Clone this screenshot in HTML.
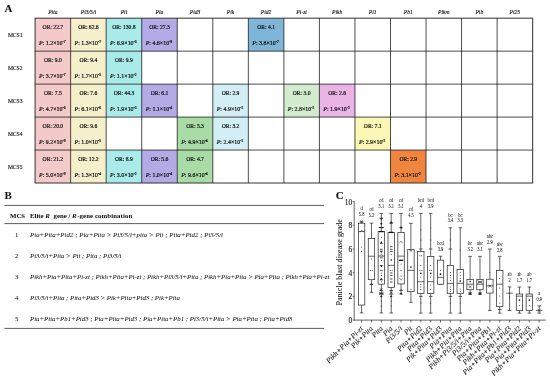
<!DOCTYPE html><html><head><meta charset="utf-8"><title>Figure</title>
<style>html,body{margin:0;padding:0;background:#fff}body{width:550px;height:380px;overflow:hidden}svg{display:block}text{font-family:"Liberation Serif","Times New Roman",serif;fill:#111;stroke:#111;stroke-width:0.12px}.b text{stroke-width:0.03px}.x{stroke-width:0.04px}.s{stroke-width:0.2px}</style></head><body>
<svg width="550" height="380" viewBox="0 0 550 380">
<rect width="550" height="380" fill="#fff"/>
<text x="4.6" y="11.6" font-size="11" font-weight="bold">A</text>
<text x="52.87" y="13.9" font-size="5.60" font-style="italic" text-anchor="middle">Pita</text>
<text x="88.41" y="13.9" font-size="5.60" font-style="italic" text-anchor="middle">Pi3/5/i</text>
<text x="123.95" y="13.9" font-size="5.60" font-style="italic" text-anchor="middle">Pit</text>
<text x="159.49" y="13.9" font-size="5.60" font-style="italic" text-anchor="middle">Pia</text>
<text x="195.03" y="13.9" font-size="5.60" font-style="italic" text-anchor="middle">Pid3</text>
<text x="230.57" y="13.9" font-size="5.60" font-style="italic" text-anchor="middle">Pik</text>
<text x="266.11" y="13.9" font-size="5.60" font-style="italic" text-anchor="middle">Pid2</text>
<text x="301.65" y="13.9" font-size="5.60" font-style="italic" text-anchor="middle">Pi-zt</text>
<text x="337.19" y="13.9" font-size="5.60" font-style="italic" text-anchor="middle">Pikh</text>
<text x="372.73" y="13.9" font-size="5.60" font-style="italic" text-anchor="middle">Pi1</text>
<text x="408.27" y="13.9" font-size="5.60" font-style="italic" text-anchor="middle">Pb1</text>
<text x="443.81" y="13.9" font-size="5.60" font-style="italic" text-anchor="middle">Pikm</text>
<text x="479.35" y="13.9" font-size="5.60" font-style="italic" text-anchor="middle">Pib</text>
<text x="514.89" y="13.9" font-size="5.60" font-style="italic" text-anchor="middle">Pi25</text>
<rect x="35.10" y="18.20" width="35.54" height="32.96" fill="#f4c9c9"/>
<rect x="70.64" y="18.20" width="35.54" height="32.96" fill="#f5efcb"/>
<rect x="106.18" y="18.20" width="35.54" height="32.96" fill="#a9ebe8"/>
<rect x="141.72" y="18.20" width="35.54" height="32.96" fill="#b4abe6"/>
<rect x="248.34" y="18.20" width="35.54" height="32.96" fill="#7fb6d8"/>
<rect x="35.10" y="51.16" width="35.54" height="32.96" fill="#f4c9c9"/>
<rect x="70.64" y="51.16" width="35.54" height="32.96" fill="#f5efcb"/>
<rect x="106.18" y="51.16" width="35.54" height="32.96" fill="#a9ebe8"/>
<rect x="35.10" y="84.12" width="35.54" height="32.96" fill="#f4c9c9"/>
<rect x="70.64" y="84.12" width="35.54" height="32.96" fill="#f5efcb"/>
<rect x="106.18" y="84.12" width="35.54" height="32.96" fill="#a9ebe8"/>
<rect x="141.72" y="84.12" width="35.54" height="32.96" fill="#b4abe6"/>
<rect x="212.80" y="84.12" width="35.54" height="32.96" fill="#d3eef5"/>
<rect x="283.88" y="84.12" width="35.54" height="32.96" fill="#d3ecce"/>
<rect x="319.42" y="84.12" width="35.54" height="32.96" fill="#ebb4e6"/>
<rect x="35.10" y="117.08" width="35.54" height="32.96" fill="#f4c9c9"/>
<rect x="70.64" y="117.08" width="35.54" height="32.96" fill="#f5efcb"/>
<rect x="177.26" y="117.08" width="35.54" height="32.96" fill="#a9dba6"/>
<rect x="212.80" y="117.08" width="35.54" height="32.96" fill="#d3eef5"/>
<rect x="354.96" y="117.08" width="35.54" height="32.96" fill="#fbf7b4"/>
<rect x="35.10" y="150.04" width="35.54" height="32.96" fill="#f4c9c9"/>
<rect x="70.64" y="150.04" width="35.54" height="32.96" fill="#f5efcb"/>
<rect x="106.18" y="150.04" width="35.54" height="32.96" fill="#a9ebe8"/>
<rect x="141.72" y="150.04" width="35.54" height="32.96" fill="#b4abe6"/>
<rect x="177.26" y="150.04" width="35.54" height="32.96" fill="#a9dba6"/>
<rect x="390.50" y="150.04" width="35.54" height="32.96" fill="#f0853f"/>
<line x1="34.65" y1="18.20" x2="533.11" y2="18.20" stroke="#333" stroke-width="1.00"/>
<line x1="34.65" y1="51.16" x2="533.11" y2="51.16" stroke="#111" stroke-width="0.75"/>
<line x1="34.65" y1="84.12" x2="533.11" y2="84.12" stroke="#111" stroke-width="0.75"/>
<line x1="34.65" y1="117.08" x2="533.11" y2="117.08" stroke="#111" stroke-width="0.75"/>
<line x1="34.65" y1="150.04" x2="533.11" y2="150.04" stroke="#111" stroke-width="0.75"/>
<line x1="34.65" y1="183.00" x2="533.11" y2="183.00" stroke="#333" stroke-width="1.00"/>
<line x1="35.10" y1="18.20" x2="35.10" y2="183.00" stroke="#333" stroke-width="1.00"/>
<line x1="70.64" y1="18.20" x2="70.64" y2="183.00" stroke="#111" stroke-width="0.75"/>
<line x1="106.18" y1="18.20" x2="106.18" y2="183.00" stroke="#111" stroke-width="0.75"/>
<line x1="141.72" y1="18.20" x2="141.72" y2="183.00" stroke="#111" stroke-width="0.75"/>
<line x1="177.26" y1="18.20" x2="177.26" y2="183.00" stroke="#111" stroke-width="0.75"/>
<line x1="212.80" y1="18.20" x2="212.80" y2="183.00" stroke="#111" stroke-width="0.75"/>
<line x1="248.34" y1="18.20" x2="248.34" y2="183.00" stroke="#111" stroke-width="0.75"/>
<line x1="283.88" y1="18.20" x2="283.88" y2="183.00" stroke="#111" stroke-width="0.75"/>
<line x1="319.42" y1="18.20" x2="319.42" y2="183.00" stroke="#111" stroke-width="0.75"/>
<line x1="354.96" y1="18.20" x2="354.96" y2="183.00" stroke="#111" stroke-width="0.75"/>
<line x1="390.50" y1="18.20" x2="390.50" y2="183.00" stroke="#111" stroke-width="0.75"/>
<line x1="426.04" y1="18.20" x2="426.04" y2="183.00" stroke="#111" stroke-width="0.75"/>
<line x1="461.58" y1="18.20" x2="461.58" y2="183.00" stroke="#111" stroke-width="0.75"/>
<line x1="497.12" y1="18.20" x2="497.12" y2="183.00" stroke="#111" stroke-width="0.75"/>
<line x1="532.66" y1="18.20" x2="532.66" y2="183.00" stroke="#333" stroke-width="1.00"/>
<text x="15.2" y="36.98" font-size="5.60" text-anchor="middle">MCS1</text>
<text x="15.2" y="69.94" font-size="5.60" text-anchor="middle">MCS2</text>
<text x="15.2" y="102.90" font-size="5.60" text-anchor="middle">MCS3</text>
<text x="15.2" y="135.86" font-size="5.60" text-anchor="middle">MCS4</text>
<text x="15.2" y="168.82" font-size="5.60" text-anchor="middle">MCS5</text>
<text x="52.87" y="29.20" font-size="5.60" class="s" text-anchor="middle">OR: 22.7</text>
<text x="52.27" y="44.80" font-size="5.95" class="s" text-anchor="middle"><tspan font-style="italic">P</tspan>: 1.2×10<tspan font-size="3.6" dy="-1.8">-7</tspan></text>
<text x="88.41" y="29.20" font-size="5.60" class="s" text-anchor="middle">OR: 62.6</text>
<text x="87.81" y="44.80" font-size="5.95" class="s" text-anchor="middle"><tspan font-style="italic">P</tspan>: 1.3×10<tspan font-size="3.6" dy="-1.8">-7</tspan></text>
<text x="123.95" y="29.20" font-size="5.60" class="s" text-anchor="middle">OR: 130.8</text>
<text x="123.35" y="44.80" font-size="5.95" class="s" text-anchor="middle"><tspan font-style="italic">P</tspan>: 6.9×10<tspan font-size="3.6" dy="-1.8">-6</tspan></text>
<text x="159.49" y="29.20" font-size="5.60" class="s" text-anchor="middle">OR: 27.3</text>
<text x="158.89" y="44.80" font-size="5.95" class="s" text-anchor="middle"><tspan font-style="italic">P</tspan>: 4.6×10<tspan font-size="3.6" dy="-1.8">-9</tspan></text>
<text x="266.11" y="29.20" font-size="5.60" class="s" text-anchor="middle">OR: 4.1</text>
<text x="265.51" y="44.80" font-size="5.95" class="s" text-anchor="middle"><tspan font-style="italic">P</tspan>: 3.8×10<tspan font-size="3.6" dy="-1.8">-7</tspan></text>
<text x="52.87" y="62.16" font-size="5.60" class="s" text-anchor="middle">OR: 9.0</text>
<text x="52.27" y="77.76" font-size="5.95" class="s" text-anchor="middle"><tspan font-style="italic">P</tspan>: 3.7×10<tspan font-size="3.6" dy="-1.8">-7</tspan></text>
<text x="88.41" y="62.16" font-size="5.60" class="s" text-anchor="middle">OR: 9.4</text>
<text x="87.81" y="77.76" font-size="5.95" class="s" text-anchor="middle"><tspan font-style="italic">P</tspan>: 1.7×10<tspan font-size="3.6" dy="-1.8">-5</tspan></text>
<text x="123.95" y="62.16" font-size="5.60" class="s" text-anchor="middle">OR: 9.9</text>
<text x="123.35" y="77.76" font-size="5.95" class="s" text-anchor="middle"><tspan font-style="italic">P</tspan>: 1.1×10<tspan font-size="3.6" dy="-1.8">-2</tspan></text>
<text x="52.87" y="95.12" font-size="5.60" class="s" text-anchor="middle">OR: 7.5</text>
<text x="52.27" y="110.72" font-size="5.95" class="s" text-anchor="middle"><tspan font-style="italic">P</tspan>: 4.7×10<tspan font-size="3.6" dy="-1.8">-6</tspan></text>
<text x="88.41" y="95.12" font-size="5.60" class="s" text-anchor="middle">OR: 7.6</text>
<text x="87.81" y="110.72" font-size="5.95" class="s" text-anchor="middle"><tspan font-style="italic">P</tspan>: 6.1×10<tspan font-size="3.6" dy="-1.8">-6</tspan></text>
<text x="123.95" y="95.12" font-size="5.60" class="s" text-anchor="middle">OR: 44.3</text>
<text x="123.35" y="110.72" font-size="5.95" class="s" text-anchor="middle"><tspan font-style="italic">P</tspan>: 1.9×10<tspan font-size="3.6" dy="-1.8">-3</tspan></text>
<text x="159.49" y="95.12" font-size="5.60" class="s" text-anchor="middle">OR: 6.1</text>
<text x="158.89" y="110.72" font-size="5.95" class="s" text-anchor="middle"><tspan font-style="italic">P</tspan>: 1.1×10<tspan font-size="3.6" dy="-1.8">-4</tspan></text>
<text x="230.57" y="95.12" font-size="5.60" class="s" text-anchor="middle">OR: 2.9</text>
<text x="229.97" y="110.72" font-size="5.95" class="s" text-anchor="middle"><tspan font-style="italic">P</tspan>: 4.9×10<tspan font-size="3.6" dy="-1.8">-2</tspan></text>
<text x="301.65" y="95.12" font-size="5.60" class="s" text-anchor="middle">OR: 3.0</text>
<text x="301.05" y="110.72" font-size="5.95" class="s" text-anchor="middle"><tspan font-style="italic">P</tspan>: 2.8×10<tspan font-size="3.6" dy="-1.8">-2</tspan></text>
<text x="337.19" y="95.12" font-size="5.60" class="s" text-anchor="middle">OR: 2.6</text>
<text x="336.59" y="110.72" font-size="5.95" class="s" text-anchor="middle"><tspan font-style="italic">P</tspan>: 1.9×10<tspan font-size="3.6" dy="-1.8">-2</tspan></text>
<text x="52.87" y="128.08" font-size="5.60" class="s" text-anchor="middle">OR: 20.0</text>
<text x="52.27" y="143.68" font-size="5.95" class="s" text-anchor="middle"><tspan font-style="italic">P</tspan>: 9.2×10<tspan font-size="3.6" dy="-1.8">-9</tspan></text>
<text x="88.41" y="128.08" font-size="5.60" class="s" text-anchor="middle">OR: 9.6</text>
<text x="87.81" y="143.68" font-size="5.95" class="s" text-anchor="middle"><tspan font-style="italic">P</tspan>: 1.0×10<tspan font-size="3.6" dy="-1.8">-5</tspan></text>
<text x="195.03" y="128.08" font-size="5.60" class="s" text-anchor="middle">OR: 5.3</text>
<text x="194.43" y="143.68" font-size="5.95" class="s" text-anchor="middle"><tspan font-style="italic">P</tspan>: 4.9×10<tspan font-size="3.6" dy="-1.8">-4</tspan></text>
<text x="230.57" y="128.08" font-size="5.60" class="s" text-anchor="middle">OR: 3.2</text>
<text x="229.97" y="143.68" font-size="5.95" class="s" text-anchor="middle"><tspan font-style="italic">P</tspan>: 2.4×10<tspan font-size="3.6" dy="-1.8">-2</tspan></text>
<text x="372.73" y="128.08" font-size="5.60" class="s" text-anchor="middle">OR: 7.1</text>
<text x="372.13" y="143.68" font-size="5.95" class="s" text-anchor="middle"><tspan font-style="italic">P</tspan>: 2.9×10<tspan font-size="3.6" dy="-1.8">-2</tspan></text>
<text x="52.87" y="161.04" font-size="5.60" class="s" text-anchor="middle">OR: 21.2</text>
<text x="52.27" y="176.64" font-size="5.95" class="s" text-anchor="middle"><tspan font-style="italic">P</tspan>: 5.0×10<tspan font-size="3.6" dy="-1.8">-9</tspan></text>
<text x="88.41" y="161.04" font-size="5.60" class="s" text-anchor="middle">OR: 12.2</text>
<text x="87.81" y="176.64" font-size="5.95" class="s" text-anchor="middle"><tspan font-style="italic">P</tspan>: 1.3×10<tspan font-size="3.6" dy="-1.8">-4</tspan></text>
<text x="123.95" y="161.04" font-size="5.60" class="s" text-anchor="middle">OR: 8.9</text>
<text x="123.35" y="176.64" font-size="5.95" class="s" text-anchor="middle"><tspan font-style="italic">P</tspan>: 3.0×10<tspan font-size="3.6" dy="-1.8">-2</tspan></text>
<text x="159.49" y="161.04" font-size="5.60" class="s" text-anchor="middle">OR: 5.6</text>
<text x="158.89" y="176.64" font-size="5.95" class="s" text-anchor="middle"><tspan font-style="italic">P</tspan>: 1.0×10<tspan font-size="3.6" dy="-1.8">-4</tspan></text>
<text x="195.03" y="161.04" font-size="5.60" class="s" text-anchor="middle">OR: 4.7</text>
<text x="194.43" y="176.64" font-size="5.95" class="s" text-anchor="middle"><tspan font-style="italic">P</tspan>: 9.6×10<tspan font-size="3.6" dy="-1.8">-4</tspan></text>
<text x="408.27" y="161.04" font-size="5.60" class="s" text-anchor="middle">OR: 2.9</text>
<text x="407.67" y="176.64" font-size="5.95" class="s" text-anchor="middle"><tspan font-style="italic">P</tspan>: 3.1×10<tspan font-size="3.6" dy="-1.8">-2</tspan></text>
<g class="b">
<text x="4.4" y="198.6" font-size="11" font-weight="bold">B</text>
<line x1="4.4" y1="205.40" x2="324" y2="205.40" stroke="#333" stroke-width="0.80"/>
<line x1="4.4" y1="223.60" x2="324" y2="223.60" stroke="#333" stroke-width="0.80"/>
<line x1="4.4" y1="328.40" x2="324" y2="328.40" stroke="#333" stroke-width="0.80"/>
<text x="10" y="217.5" font-size="6.80" font-weight="bold">MCS</text>
<text x="30" y="217.5" font-size="6.80" font-weight="bold">Elite <tspan font-style="italic">R</tspan><tspan dx="2.0"> gene / </tspan><tspan font-style="italic">R</tspan><tspan dx="0.6" letter-spacing="0.1">-gene combination</tspan></text>
<text x="16.6" y="237.30" font-size="6.80" text-anchor="middle">1</text>
<text x="30" y="237.30" font-size="6.80" font-style="italic" textLength="193.0" lengthAdjust="spacing">Pia+Pita+Pid2 ; Pia+Pita &gt; Pi3/5/i+pita &gt; Pit ; Pita+Pid2 ; Pi3/5/i</text>
<text x="16.6" y="258.20" font-size="6.80" text-anchor="middle">2</text>
<text x="30" y="258.20" font-size="6.80" font-style="italic">Pi3/5/i+Pita &gt; Pit ; Pita ; Pi3/5/i</text>
<text x="16.6" y="279.10" font-size="6.80" text-anchor="middle">3</text>
<text x="30" y="279.10" font-size="6.80" font-style="italic">Pikh+Pia+Pita+Pi-zt ; Pikh+Pita+Pi-zt ; Pikh+Pi3/5/i+Pita ; Pikh+Pia+Pita &gt; Pia+Pita ; Pikh+Pia+Pi-zt</text>
<text x="16.6" y="300.00" font-size="6.80" text-anchor="middle">4</text>
<text x="30" y="300.00" font-size="6.80" font-style="italic">Pi3/5/i+Pita ; Pita+Pid3 &gt; Pik+Pita+Pid3 ; Pik+Pita</text>
<text x="16.6" y="320.90" font-size="6.80" text-anchor="middle">5</text>
<text x="30" y="320.90" font-size="6.80" font-style="italic" textLength="262.5" lengthAdjust="spacing">Pia+Pita+Pb1+Pid3 ; Pia+Pita+Pid3 ; Pia+Pita+Pb1 ; Pi3/5/i+Pita &gt; Pia+Pita ; Pita+Pid3</text>
</g>
<text x="335.8" y="199.0" font-size="10.8" font-weight="bold">C</text>
<line x1="354.20" y1="201.30" x2="354.20" y2="320.50" stroke="#555" stroke-width="0.9"/>
<line x1="353.80" y1="320.10" x2="545.80" y2="320.10" stroke="#555" stroke-width="0.9"/>
<line x1="352.60" y1="320.10" x2="354.20" y2="320.10" stroke="#444" stroke-width="0.7"/>
<text x="352.20" y="323.10" font-size="7.4" text-anchor="end">0</text>
<line x1="352.60" y1="296.40" x2="354.20" y2="296.40" stroke="#444" stroke-width="0.7"/>
<text x="352.20" y="299.40" font-size="7.4" text-anchor="end">2</text>
<line x1="352.60" y1="272.70" x2="354.20" y2="272.70" stroke="#444" stroke-width="0.7"/>
<text x="352.20" y="275.70" font-size="7.4" text-anchor="end">4</text>
<line x1="352.60" y1="249.00" x2="354.20" y2="249.00" stroke="#444" stroke-width="0.7"/>
<text x="352.20" y="252.00" font-size="7.4" text-anchor="end">6</text>
<line x1="352.60" y1="225.30" x2="354.20" y2="225.30" stroke="#444" stroke-width="0.7"/>
<text x="352.20" y="228.30" font-size="7.4" text-anchor="end">8</text>
<line x1="352.60" y1="201.60" x2="354.20" y2="201.60" stroke="#444" stroke-width="0.7"/>
<text x="352.20" y="204.60" font-size="7.4" text-anchor="end">10</text>
<text transform="translate(342,262.3) rotate(-90)" font-size="8.1" class="x" text-anchor="middle">Panicle blast disease grade</text>
<line x1="361.60" y1="320.10" x2="361.60" y2="322.40" stroke="#222" stroke-width="0.7"/>
<line x1="361.60" y1="221.75" x2="361.60" y2="223.17" stroke="#222" stroke-width="0.7" fill="none"/>
<line x1="361.60" y1="305.05" x2="361.60" y2="312.87" stroke="#222" stroke-width="0.7" fill="none"/>
<line x1="359.80" y1="312.87" x2="363.40" y2="312.87" stroke="#222" stroke-width="0.7" fill="none"/>
<line x1="359.80" y1="221.75" x2="363.40" y2="221.75" stroke="#222" stroke-width="0.7" fill="none"/>
<rect x="358.40" y="223.17" width="6.40" height="81.88" fill="#fff" stroke="#222" stroke-width="0.7"/>
<line x1="358.40" y1="231.46" x2="364.80" y2="231.46" stroke="#222" stroke-width="0.7" fill="none"/>
<path d="M360.10 220.40L363.10 223.00M360.10 223.00L363.10 220.40" fill="none" stroke="#222" stroke-width="0.55"/>
<path d="M360.10 232.30L361.60 230.10L363.10 232.30" fill="none" stroke="#333" stroke-width="0.5"/>
<circle cx="361.60" cy="246.90" r="0.5" fill="#222"/>
<circle cx="361.60" cy="251.30" r="0.5" fill="#222"/>
<text transform="translate(361.60,210.30) scale(0.8,1)" font-size="5.5" class="x" text-anchor="middle">d</text>
<text transform="translate(361.60,216.10) scale(0.8,1)" font-size="5.5" class="x" text-anchor="middle">5.8</text>
<text transform="translate(363.60,329.10) rotate(-45)" font-size="7.6" class="x" font-style="italic" text-anchor="end">Pikh+Pia+Pi-zt</text>
<line x1="371.47" y1="320.10" x2="371.47" y2="322.40" stroke="#222" stroke-width="0.7"/>
<line x1="371.47" y1="223.17" x2="371.47" y2="238.34" stroke="#222" stroke-width="0.7" fill="none"/>
<line x1="371.47" y1="279.69" x2="371.47" y2="292.25" stroke="#222" stroke-width="0.7" fill="none"/>
<line x1="369.67" y1="292.25" x2="373.27" y2="292.25" stroke="#222" stroke-width="0.7" fill="none"/>
<line x1="369.67" y1="223.17" x2="373.27" y2="223.17" stroke="#222" stroke-width="0.7" fill="none"/>
<line x1="369.67" y1="284.55" x2="373.27" y2="284.55" stroke="#222" stroke-width="0.7" fill="none"/>
<rect x="368.27" y="238.34" width="6.40" height="41.36" fill="#fff" stroke="#222" stroke-width="0.7"/>
<line x1="368.27" y1="256.23" x2="374.67" y2="256.23" stroke="#222" stroke-width="0.7" fill="none"/>
<circle cx="371.47" cy="259.00" r="0.5" fill="#222"/>
<circle cx="370.57" cy="270.40" r="0.5" fill="#222"/>
<circle cx="372.37" cy="270.40" r="0.5" fill="#222"/>
<line x1="370.17" y1="284.20" x2="372.77" y2="284.20" stroke="#222" stroke-width="0.8"/>
<text transform="translate(371.47,211.40) scale(0.8,1)" font-size="5.5" class="x" text-anchor="middle">cd</text>
<text transform="translate(371.47,217.20) scale(0.8,1)" font-size="5.5" class="x" text-anchor="middle">5.2</text>
<text transform="translate(373.47,329.10) rotate(-45)" font-size="7.6" class="x" font-style="italic" text-anchor="end">Pik+Pita</text>
<line x1="381.33" y1="320.10" x2="381.33" y2="322.40" stroke="#222" stroke-width="0.7"/>
<line x1="381.33" y1="213.45" x2="381.33" y2="231.46" stroke="#222" stroke-width="0.7" fill="none"/>
<line x1="381.33" y1="284.19" x2="381.33" y2="312.99" stroke="#222" stroke-width="0.7" fill="none"/>
<line x1="379.53" y1="312.99" x2="383.13" y2="312.99" stroke="#222" stroke-width="0.7" fill="none"/>
<line x1="379.53" y1="213.45" x2="383.13" y2="213.45" stroke="#222" stroke-width="0.7" fill="none"/>
<line x1="379.53" y1="294.03" x2="383.13" y2="294.03" stroke="#222" stroke-width="0.7" fill="none"/>
<line x1="379.53" y1="290.48" x2="383.13" y2="290.48" stroke="#222" stroke-width="0.7" fill="none"/>
<line x1="379.53" y1="227.67" x2="383.13" y2="227.67" stroke="#222" stroke-width="0.7" fill="none"/>
<line x1="379.53" y1="218.19" x2="383.13" y2="218.19" stroke="#222" stroke-width="0.7" fill="none"/>
<rect x="378.13" y="231.46" width="6.40" height="52.73" fill="#fff" stroke="#222" stroke-width="0.7"/>
<line x1="378.13" y1="256.11" x2="384.53" y2="256.11" stroke="#222" stroke-width="0.7" fill="none"/>
<path d="M380.13 218.70L381.33 217.50L382.53 218.70L381.33 219.90Z" fill="#222"/>
<path d="M380.13 223.80L381.33 222.60L382.53 223.80L381.33 225.00Z" fill="#222"/>
<line x1="378.63" y1="227.50" x2="384.03" y2="227.50" stroke="#222" stroke-width="0.9"/>
<line x1="379.13" y1="231.60" x2="383.53" y2="231.60" stroke="#111" stroke-width="1.3"/>
<circle cx="381.33" cy="237.20" r="0.5" fill="#222"/>
<circle cx="381.33" cy="242.40" r="0.85" fill="#111"/>
<line x1="380.03" y1="243.60" x2="382.63" y2="243.60" stroke="#222" stroke-width="0.8"/>
<line x1="380.03" y1="249.30" x2="382.63" y2="249.30" stroke="#222" stroke-width="0.8"/>
<path d="M379.73 250.70L382.93 250.70L381.33 253.10Z" fill="#222"/>
<path d="M379.83 256.00L381.33 253.80L382.83 256.00" fill="none" stroke="#333" stroke-width="0.5"/>
<line x1="380.03" y1="257.80" x2="382.63" y2="257.80" stroke="#222" stroke-width="0.8"/>
<circle cx="381.33" cy="260.50" r="0.5" fill="#222"/>
<path d="M379.73 264.90L382.93 264.90L381.33 267.30Z" fill="#222"/>
<line x1="380.03" y1="270.40" x2="382.63" y2="270.40" stroke="#222" stroke-width="0.8"/>
<circle cx="381.33" cy="273.00" r="0.5" fill="#222"/>
<circle cx="381.33" cy="275.50" r="0.5" fill="#222"/>
<path d="M379.63 280.30L383.03 280.30L381.33 277.70Z" fill="#222"/>
<circle cx="381.33" cy="281.80" r="0.5" fill="#222"/>
<path d="M379.83 288.40L382.83 291.00M379.83 291.00L382.83 288.40" fill="none" stroke="#222" stroke-width="0.55"/>
<path d="M378.93 292.10L383.73 294.70M378.93 294.70L383.73 292.10M379.13 293.40L383.53 293.40" fill="none" stroke="#222" stroke-width="0.6"/>
<path d="M380.13 296.40L381.33 295.20L382.53 296.40L381.33 297.60Z" fill="#222"/>
<circle cx="381.33" cy="301.00" r="0.5" fill="#222"/>
<circle cx="381.33" cy="306.00" r="0.5" fill="#222"/>
<text transform="translate(381.33,202.30) scale(0.8,1)" font-size="5.5" class="x" text-anchor="middle">cd</text>
<text transform="translate(381.33,207.80) scale(0.8,1)" font-size="5.5" class="x" text-anchor="middle">5.1</text>
<text transform="translate(383.33,329.10) rotate(-45)" font-size="7.6" class="x" font-style="italic" text-anchor="end">Pita</text>
<line x1="391.20" y1="320.10" x2="391.20" y2="322.40" stroke="#222" stroke-width="0.7"/>
<line x1="391.20" y1="213.45" x2="391.20" y2="232.41" stroke="#222" stroke-width="0.7" fill="none"/>
<line x1="391.20" y1="287.39" x2="391.20" y2="312.99" stroke="#222" stroke-width="0.7" fill="none"/>
<line x1="389.40" y1="312.99" x2="393.00" y2="312.99" stroke="#222" stroke-width="0.7" fill="none"/>
<line x1="389.40" y1="213.45" x2="393.00" y2="213.45" stroke="#222" stroke-width="0.7" fill="none"/>
<line x1="389.40" y1="294.03" x2="393.00" y2="294.03" stroke="#222" stroke-width="0.7" fill="none"/>
<line x1="389.40" y1="290.48" x2="393.00" y2="290.48" stroke="#222" stroke-width="0.7" fill="none"/>
<line x1="389.40" y1="222.93" x2="393.00" y2="222.93" stroke="#222" stroke-width="0.7" fill="none"/>
<rect x="388.00" y="232.41" width="6.40" height="54.98" fill="#fff" stroke="#222" stroke-width="0.7"/>
<line x1="388.00" y1="265.35" x2="394.40" y2="265.35" stroke="#222" stroke-width="0.7" fill="none"/>
<path d="M389.50 223.60L392.90 223.60L391.20 221.00Z" fill="#222"/>
<line x1="389.00" y1="232.40" x2="393.40" y2="232.40" stroke="#111" stroke-width="1.3"/>
<line x1="389.90" y1="246.70" x2="392.50" y2="246.70" stroke="#222" stroke-width="0.8"/>
<line x1="389.90" y1="249.30" x2="392.50" y2="249.30" stroke="#222" stroke-width="0.8"/>
<line x1="389.90" y1="251.50" x2="392.50" y2="251.50" stroke="#222" stroke-width="0.8"/>
<circle cx="391.20" cy="254.50" r="0.5" fill="#222"/>
<rect x="390.50" y="259.30" width="1.4" height="1.4" fill="#222"/>
<circle cx="390.30" cy="270.40" r="0.5" fill="#222"/>
<circle cx="392.10" cy="270.40" r="0.5" fill="#222"/>
<line x1="389.90" y1="273.00" x2="392.50" y2="273.00" stroke="#222" stroke-width="0.8"/>
<line x1="389.90" y1="275.50" x2="392.50" y2="275.50" stroke="#222" stroke-width="0.8"/>
<line x1="389.90" y1="279.00" x2="392.50" y2="279.00" stroke="#222" stroke-width="0.8"/>
<line x1="389.90" y1="282.00" x2="392.50" y2="282.00" stroke="#222" stroke-width="0.8"/>
<path d="M389.70 291.20L392.70 293.80M389.70 293.80L392.70 291.20" fill="none" stroke="#222" stroke-width="0.55"/>
<path d="M390.00 296.40L391.20 295.20L392.40 296.40L391.20 297.60Z" fill="#222"/>
<circle cx="391.20" cy="301.00" r="0.5" fill="#222"/>
<circle cx="391.20" cy="306.00" r="0.5" fill="#222"/>
<text transform="translate(391.20,202.30) scale(0.8,1)" font-size="5.5" class="x" text-anchor="middle">cd</text>
<text transform="translate(391.20,207.80) scale(0.8,1)" font-size="5.5" class="x" text-anchor="middle">5.1</text>
<text transform="translate(393.20,329.10) rotate(-45)" font-size="7.6" class="x" font-style="italic" text-anchor="end">Pia</text>
<line x1="401.06" y1="320.10" x2="401.06" y2="322.40" stroke="#222" stroke-width="0.7"/>
<line x1="401.06" y1="213.45" x2="401.06" y2="232.41" stroke="#222" stroke-width="0.7" fill="none"/>
<line x1="401.06" y1="283.96" x2="401.06" y2="294.03" stroke="#222" stroke-width="0.7" fill="none"/>
<line x1="399.26" y1="294.03" x2="402.86" y2="294.03" stroke="#222" stroke-width="0.7" fill="none"/>
<line x1="399.26" y1="213.45" x2="402.86" y2="213.45" stroke="#222" stroke-width="0.7" fill="none"/>
<line x1="399.26" y1="290.48" x2="402.86" y2="290.48" stroke="#222" stroke-width="0.7" fill="none"/>
<line x1="399.26" y1="227.67" x2="402.86" y2="227.67" stroke="#222" stroke-width="0.7" fill="none"/>
<rect x="397.86" y="232.41" width="6.40" height="51.55" fill="#fff" stroke="#222" stroke-width="0.7"/>
<line x1="397.86" y1="256.11" x2="404.26" y2="256.11" stroke="#222" stroke-width="0.7" fill="none"/>
<path d="M399.86 227.50L401.06 226.30L402.26 227.50L401.06 228.70Z" fill="#222"/>
<path d="M399.56 243.20L401.06 241.00L402.56 243.20" fill="none" stroke="#333" stroke-width="0.5"/>
<line x1="398.86" y1="260.30" x2="403.26" y2="260.30" stroke="#111" stroke-width="1.3"/>
<circle cx="401.06" cy="264.00" r="0.5" fill="#222"/>
<circle cx="401.06" cy="270.40" r="0.5" fill="#222"/>
<circle cx="401.06" cy="276.00" r="0.5" fill="#222"/>
<path d="M399.56 278.10L401.06 280.30L402.56 278.10" fill="none" stroke="#333" stroke-width="0.5"/>
<circle cx="401.06" cy="289.70" r="0.5" fill="#222"/>
<path d="M399.86 293.60L401.06 292.40L402.26 293.60L401.06 294.80Z" fill="#222"/>
<text transform="translate(401.06,202.30) scale(0.8,1)" font-size="5.5" class="x" text-anchor="middle">cd</text>
<text transform="translate(401.06,207.80) scale(0.8,1)" font-size="5.5" class="x" text-anchor="middle">5.1</text>
<text transform="translate(403.06,329.10) rotate(-45)" font-size="7.6" class="x" font-style="italic" text-anchor="end">Pi3/5/i</text>
<line x1="410.93" y1="320.10" x2="410.93" y2="322.40" stroke="#222" stroke-width="0.7"/>
<line x1="410.93" y1="223.29" x2="410.93" y2="249.47" stroke="#222" stroke-width="0.7" fill="none"/>
<line x1="410.93" y1="291.66" x2="410.93" y2="302.33" stroke="#222" stroke-width="0.7" fill="none"/>
<line x1="409.13" y1="302.33" x2="412.73" y2="302.33" stroke="#222" stroke-width="0.7" fill="none"/>
<line x1="409.13" y1="223.29" x2="412.73" y2="223.29" stroke="#222" stroke-width="0.7" fill="none"/>
<rect x="407.73" y="249.47" width="6.40" height="42.19" fill="#fff" stroke="#222" stroke-width="0.7"/>
<line x1="407.73" y1="270.33" x2="414.13" y2="270.33" stroke="#222" stroke-width="0.7" fill="none"/>
<line x1="409.63" y1="250.80" x2="412.23" y2="250.80" stroke="#222" stroke-width="0.8"/>
<rect x="410.23" y="266.40" width="1.4" height="1.4" fill="#222"/>
<circle cx="410.93" cy="289.30" r="0.5" fill="#222"/>
<text transform="translate(410.93,211.40) scale(0.8,1)" font-size="5.5" class="x" text-anchor="middle">cd</text>
<text transform="translate(410.93,217.20) scale(0.8,1)" font-size="5.5" class="x" text-anchor="middle">4.5</text>
<text transform="translate(412.93,329.10) rotate(-45)" font-size="7.6" class="x" font-style="italic" text-anchor="end">Pit</text>
<line x1="420.80" y1="320.10" x2="420.80" y2="322.40" stroke="#222" stroke-width="0.7"/>
<line x1="420.80" y1="213.45" x2="420.80" y2="251.61" stroke="#222" stroke-width="0.7" fill="none"/>
<line x1="420.80" y1="293.56" x2="420.80" y2="313.11" stroke="#222" stroke-width="0.7" fill="none"/>
<line x1="419.00" y1="313.11" x2="422.60" y2="313.11" stroke="#222" stroke-width="0.7" fill="none"/>
<line x1="419.00" y1="213.45" x2="422.60" y2="213.45" stroke="#222" stroke-width="0.7" fill="none"/>
<line x1="419.00" y1="296.40" x2="422.60" y2="296.40" stroke="#222" stroke-width="0.7" fill="none"/>
<line x1="419.00" y1="249.00" x2="422.60" y2="249.00" stroke="#222" stroke-width="0.7" fill="none"/>
<rect x="417.60" y="251.61" width="6.40" height="41.95" fill="#fff" stroke="#222" stroke-width="0.7"/>
<line x1="417.60" y1="281.71" x2="424.00" y2="281.71" stroke="#222" stroke-width="0.7" fill="none"/>
<circle cx="419.90" cy="255.80" r="0.5" fill="#222"/>
<circle cx="421.70" cy="255.80" r="0.5" fill="#222"/>
<circle cx="420.80" cy="265.50" r="0.5" fill="#222"/>
<circle cx="419.90" cy="270.50" r="0.5" fill="#222"/>
<circle cx="421.70" cy="270.50" r="0.5" fill="#222"/>
<circle cx="420.80" cy="273.30" r="0.85" fill="#111"/>
<circle cx="420.80" cy="277.00" r="0.5" fill="#222"/>
<circle cx="420.80" cy="284.60" r="0.5" fill="#222"/>
<circle cx="420.80" cy="287.00" r="0.5" fill="#222"/>
<circle cx="420.80" cy="289.50" r="0.5" fill="#222"/>
<circle cx="420.80" cy="240.00" r="0.5" fill="#222"/>
<circle cx="420.80" cy="230.00" r="0.5" fill="#222"/>
<circle cx="420.80" cy="303.00" r="0.5" fill="#222"/>
<text transform="translate(420.80,202.20) scale(0.8,1)" font-size="5.5" class="x" text-anchor="middle">bcd</text>
<text transform="translate(420.80,207.80) scale(0.8,1)" font-size="5.5" class="x" text-anchor="middle">4</text>
<text transform="translate(422.80,329.10) rotate(-45)" font-size="7.6" class="x" font-style="italic" text-anchor="end">Pita+Pid2</text>
<line x1="430.66" y1="320.10" x2="430.66" y2="322.40" stroke="#222" stroke-width="0.7"/>
<line x1="430.66" y1="213.45" x2="430.66" y2="256.47" stroke="#222" stroke-width="0.7" fill="none"/>
<line x1="430.66" y1="293.56" x2="430.66" y2="313.11" stroke="#222" stroke-width="0.7" fill="none"/>
<line x1="428.86" y1="313.11" x2="432.46" y2="313.11" stroke="#222" stroke-width="0.7" fill="none"/>
<line x1="428.86" y1="213.45" x2="432.46" y2="213.45" stroke="#222" stroke-width="0.7" fill="none"/>
<line x1="428.86" y1="296.40" x2="432.46" y2="296.40" stroke="#222" stroke-width="0.7" fill="none"/>
<line x1="428.86" y1="249.00" x2="432.46" y2="249.00" stroke="#222" stroke-width="0.7" fill="none"/>
<rect x="427.46" y="256.47" width="6.40" height="37.09" fill="#fff" stroke="#222" stroke-width="0.7"/>
<line x1="427.46" y1="281.71" x2="433.86" y2="281.71" stroke="#222" stroke-width="0.7" fill="none"/>
<circle cx="430.66" cy="265.50" r="0.5" fill="#222"/>
<circle cx="429.76" cy="270.50" r="0.5" fill="#222"/>
<circle cx="431.56" cy="270.50" r="0.5" fill="#222"/>
<circle cx="430.66" cy="273.30" r="0.85" fill="#111"/>
<circle cx="430.66" cy="277.00" r="0.5" fill="#222"/>
<circle cx="430.66" cy="285.00" r="0.5" fill="#222"/>
<circle cx="430.66" cy="289.50" r="0.5" fill="#222"/>
<circle cx="430.66" cy="240.00" r="0.5" fill="#222"/>
<circle cx="430.66" cy="228.00" r="0.5" fill="#222"/>
<circle cx="430.66" cy="303.00" r="0.5" fill="#222"/>
<text transform="translate(430.66,202.20) scale(0.8,1)" font-size="5.5" class="x" text-anchor="middle">bcd</text>
<text transform="translate(430.66,207.80) scale(0.8,1)" font-size="5.5" class="x" text-anchor="middle">3.9</text>
<text transform="translate(432.66,329.10) rotate(-45)" font-size="7.6" class="x" font-style="italic" text-anchor="end">Pita+Pid3</text>
<line x1="440.53" y1="320.10" x2="440.53" y2="322.40" stroke="#222" stroke-width="0.7"/>
<line x1="440.53" y1="256.23" x2="440.53" y2="260.14" stroke="#222" stroke-width="0.7" fill="none"/>
<line x1="440.53" y1="284.19" x2="440.53" y2="284.19" stroke="#222" stroke-width="0.7" fill="none"/>
<line x1="438.73" y1="284.19" x2="442.33" y2="284.19" stroke="#222" stroke-width="0.7" fill="none"/>
<line x1="438.73" y1="256.23" x2="442.33" y2="256.23" stroke="#222" stroke-width="0.7" fill="none"/>
<rect x="437.33" y="260.14" width="6.40" height="24.06" fill="#fff" stroke="#222" stroke-width="0.7"/>
<line x1="437.33" y1="277.32" x2="443.73" y2="277.32" stroke="#222" stroke-width="0.7" fill="none"/>
<circle cx="440.53" cy="270.50" r="0.5" fill="#222"/>
<circle cx="440.53" cy="274.20" r="0.85" fill="#111"/>
<text transform="translate(440.53,244.50) scale(0.8,1)" font-size="5.5" class="x" text-anchor="middle">bcd</text>
<text transform="translate(440.53,250.50) scale(0.8,1)" font-size="5.5" class="x" text-anchor="middle">3.9</text>
<text transform="translate(442.53,329.10) rotate(-45)" font-size="7.6" class="x" font-style="italic" text-anchor="end">Pik+Pita+Pid3</text>
<line x1="450.39" y1="320.10" x2="450.39" y2="322.40" stroke="#222" stroke-width="0.7"/>
<line x1="450.39" y1="227.79" x2="450.39" y2="265.59" stroke="#222" stroke-width="0.7" fill="none"/>
<line x1="450.39" y1="293.32" x2="450.39" y2="313.11" stroke="#222" stroke-width="0.7" fill="none"/>
<line x1="448.59" y1="313.11" x2="452.19" y2="313.11" stroke="#222" stroke-width="0.7" fill="none"/>
<line x1="448.59" y1="227.79" x2="452.19" y2="227.79" stroke="#222" stroke-width="0.7" fill="none"/>
<line x1="448.59" y1="296.40" x2="452.19" y2="296.40" stroke="#222" stroke-width="0.7" fill="none"/>
<line x1="448.59" y1="249.00" x2="452.19" y2="249.00" stroke="#222" stroke-width="0.7" fill="none"/>
<rect x="447.19" y="265.59" width="6.40" height="27.73" fill="#fff" stroke="#222" stroke-width="0.7"/>
<line x1="447.19" y1="283.37" x2="453.59" y2="283.37" stroke="#222" stroke-width="0.7" fill="none"/>
<circle cx="450.39" cy="272.40" r="0.5" fill="#222"/>
<circle cx="450.39" cy="275.50" r="0.5" fill="#222"/>
<circle cx="450.39" cy="278.00" r="0.5" fill="#222"/>
<circle cx="450.39" cy="280.50" r="0.5" fill="#222"/>
<circle cx="450.39" cy="287.00" r="0.5" fill="#222"/>
<circle cx="450.39" cy="289.50" r="0.5" fill="#222"/>
<circle cx="450.39" cy="291.50" r="0.5" fill="#222"/>
<circle cx="450.39" cy="240.00" r="0.5" fill="#222"/>
<circle cx="450.39" cy="303.00" r="0.5" fill="#222"/>
<text transform="translate(450.39,216.70) scale(0.8,1)" font-size="5.5" class="x" text-anchor="middle">bc</text>
<text transform="translate(450.39,222.40) scale(0.8,1)" font-size="5.5" class="x" text-anchor="middle">3.4</text>
<text transform="translate(452.39,329.10) rotate(-45)" font-size="7.6" class="x" font-style="italic" text-anchor="end">Pia+Pita</text>
<line x1="460.26" y1="320.10" x2="460.26" y2="322.40" stroke="#222" stroke-width="0.7"/>
<line x1="460.26" y1="227.79" x2="460.26" y2="269.50" stroke="#222" stroke-width="0.7" fill="none"/>
<line x1="460.26" y1="293.32" x2="460.26" y2="313.11" stroke="#222" stroke-width="0.7" fill="none"/>
<line x1="458.46" y1="313.11" x2="462.06" y2="313.11" stroke="#222" stroke-width="0.7" fill="none"/>
<line x1="458.46" y1="227.79" x2="462.06" y2="227.79" stroke="#222" stroke-width="0.7" fill="none"/>
<line x1="458.46" y1="296.40" x2="462.06" y2="296.40" stroke="#222" stroke-width="0.7" fill="none"/>
<rect x="457.06" y="269.50" width="6.40" height="23.82" fill="#fff" stroke="#222" stroke-width="0.7"/>
<line x1="457.06" y1="283.37" x2="463.46" y2="283.37" stroke="#222" stroke-width="0.7" fill="none"/>
<circle cx="460.26" cy="272.40" r="0.5" fill="#222"/>
<circle cx="460.26" cy="275.50" r="0.5" fill="#222"/>
<circle cx="460.26" cy="278.60" r="0.5" fill="#222"/>
<circle cx="460.26" cy="281.00" r="0.85" fill="#111"/>
<circle cx="460.26" cy="289.00" r="0.5" fill="#222"/>
<circle cx="460.26" cy="291.50" r="0.5" fill="#222"/>
<circle cx="460.26" cy="250.00" r="0.5" fill="#222"/>
<circle cx="460.26" cy="303.00" r="0.5" fill="#222"/>
<text transform="translate(460.26,216.70) scale(0.8,1)" font-size="5.5" class="x" text-anchor="middle">bc</text>
<text transform="translate(460.26,222.40) scale(0.8,1)" font-size="5.5" class="x" text-anchor="middle">3.3</text>
<text transform="translate(462.26,329.10) rotate(-45)" font-size="7.6" class="x" font-style="italic" text-anchor="end">Pikh+Pia+Pita</text>
<line x1="470.13" y1="320.10" x2="470.13" y2="322.40" stroke="#222" stroke-width="0.7"/>
<line x1="470.13" y1="256.35" x2="470.13" y2="279.45" stroke="#222" stroke-width="0.7" fill="none"/>
<line x1="470.13" y1="289.76" x2="470.13" y2="294.15" stroke="#222" stroke-width="0.7" fill="none"/>
<line x1="468.33" y1="294.15" x2="471.93" y2="294.15" stroke="#222" stroke-width="0.7" fill="none"/>
<line x1="468.33" y1="256.35" x2="471.93" y2="256.35" stroke="#222" stroke-width="0.7" fill="none"/>
<line x1="468.33" y1="292.85" x2="471.93" y2="292.85" stroke="#222" stroke-width="0.7" fill="none"/>
<rect x="466.93" y="279.45" width="6.40" height="10.31" fill="#fff" stroke="#222" stroke-width="0.7"/>
<line x1="466.93" y1="284.19" x2="473.33" y2="284.19" stroke="#222" stroke-width="0.7" fill="none"/>
<rect x="469.43" y="280.80" width="1.4" height="1.4" fill="#222"/>
<path d="M468.63 285.50L471.63 288.10M468.63 288.10L471.63 285.50" fill="none" stroke="#222" stroke-width="0.55"/>
<path d="M468.43 294.80L471.83 294.80L470.13 292.20Z" fill="#222"/>
<text transform="translate(470.13,244.70) scale(0.8,1)" font-size="5.5" class="x" text-anchor="middle">bc</text>
<text transform="translate(470.13,250.80) scale(0.8,1)" font-size="5.5" class="x" text-anchor="middle">3.2</text>
<text transform="translate(472.13,329.10) rotate(-45)" font-size="7.6" class="x" font-style="italic" text-anchor="end">Pikh+Pi3/5/i+Pita</text>
<line x1="479.99" y1="320.10" x2="479.99" y2="322.40" stroke="#222" stroke-width="0.7"/>
<line x1="479.99" y1="256.35" x2="479.99" y2="279.45" stroke="#222" stroke-width="0.7" fill="none"/>
<line x1="479.99" y1="289.76" x2="479.99" y2="294.15" stroke="#222" stroke-width="0.7" fill="none"/>
<line x1="478.19" y1="294.15" x2="481.79" y2="294.15" stroke="#222" stroke-width="0.7" fill="none"/>
<line x1="478.19" y1="256.35" x2="481.79" y2="256.35" stroke="#222" stroke-width="0.7" fill="none"/>
<line x1="478.19" y1="292.85" x2="481.79" y2="292.85" stroke="#222" stroke-width="0.7" fill="none"/>
<rect x="476.79" y="279.45" width="6.40" height="10.31" fill="#fff" stroke="#222" stroke-width="0.7"/>
<line x1="476.79" y1="284.19" x2="483.19" y2="284.19" stroke="#222" stroke-width="0.7" fill="none"/>
<path d="M477.59 280.70L482.39 283.30M477.59 283.30L482.39 280.70M477.79 282.00L482.19 282.00" fill="none" stroke="#222" stroke-width="0.6"/>
<path d="M478.29 294.80L481.69 294.80L479.99 292.20Z" fill="#222"/>
<text transform="translate(479.99,244.70) scale(0.8,1)" font-size="5.5" class="x" text-anchor="middle">abc</text>
<text transform="translate(479.99,250.80) scale(0.8,1)" font-size="5.5" class="x" text-anchor="middle">3.1</text>
<text transform="translate(481.99,329.10) rotate(-45)" font-size="7.6" class="x" font-style="italic" text-anchor="end">Pi3/5/i+Pita</text>
<line x1="489.86" y1="320.10" x2="489.86" y2="322.40" stroke="#222" stroke-width="0.7"/>
<line x1="489.86" y1="249.00" x2="489.86" y2="279.22" stroke="#222" stroke-width="0.7" fill="none"/>
<line x1="489.86" y1="293.08" x2="489.86" y2="310.50" stroke="#222" stroke-width="0.7" fill="none"/>
<line x1="488.06" y1="310.50" x2="491.66" y2="310.50" stroke="#222" stroke-width="0.7" fill="none"/>
<line x1="488.06" y1="249.00" x2="491.66" y2="249.00" stroke="#222" stroke-width="0.7" fill="none"/>
<rect x="486.66" y="279.22" width="6.40" height="13.86" fill="#fff" stroke="#222" stroke-width="0.7"/>
<line x1="486.66" y1="285.85" x2="493.06" y2="285.85" stroke="#222" stroke-width="0.7" fill="none"/>
<path d="M488.36 284.70L491.36 287.30M488.36 287.30L491.36 284.70" fill="none" stroke="#222" stroke-width="0.55"/>
<circle cx="489.86" cy="272.50" r="0.5" fill="#222"/>
<text transform="translate(489.86,238.00) scale(0.8,1)" font-size="5.5" class="x" text-anchor="middle">abc</text>
<text transform="translate(489.86,244.00) scale(0.8,1)" font-size="5.5" class="x" text-anchor="middle">2.9</text>
<text transform="translate(491.86,329.10) rotate(-45)" font-size="7.6" class="x" font-style="italic" text-anchor="end">Pia+Pita+Pb1</text>
<line x1="499.72" y1="320.10" x2="499.72" y2="322.40" stroke="#222" stroke-width="0.7"/>
<line x1="499.72" y1="256.35" x2="499.72" y2="270.45" stroke="#222" stroke-width="0.7" fill="none"/>
<line x1="499.72" y1="306.47" x2="499.72" y2="313.11" stroke="#222" stroke-width="0.7" fill="none"/>
<line x1="497.92" y1="313.11" x2="501.52" y2="313.11" stroke="#222" stroke-width="0.7" fill="none"/>
<line x1="497.92" y1="256.35" x2="501.52" y2="256.35" stroke="#222" stroke-width="0.7" fill="none"/>
<line x1="497.92" y1="309.44" x2="501.52" y2="309.44" stroke="#222" stroke-width="0.7" fill="none"/>
<rect x="496.52" y="270.45" width="6.40" height="36.02" fill="#fff" stroke="#222" stroke-width="0.7"/>
<line x1="496.52" y1="284.19" x2="502.92" y2="284.19" stroke="#222" stroke-width="0.7" fill="none"/>
<circle cx="499.72" cy="278.50" r="0.5" fill="#222"/>
<circle cx="499.72" cy="288.00" r="0.5" fill="#222"/>
<circle cx="499.72" cy="296.00" r="0.5" fill="#222"/>
<circle cx="499.72" cy="303.00" r="0.5" fill="#222"/>
<text transform="translate(499.72,245.80) scale(0.8,1)" font-size="5.5" class="x" text-anchor="middle">abc</text>
<text transform="translate(499.72,251.90) scale(0.8,1)" font-size="5.5" class="x" text-anchor="middle">2.8</text>
<text transform="translate(501.72,329.10) rotate(-45)" font-size="7.6" class="x" font-style="italic" text-anchor="end">Pikh+Pita+Pi-zt</text>
<line x1="509.59" y1="320.10" x2="509.59" y2="322.40" stroke="#222" stroke-width="0.7"/>
<line x1="509.59" y1="286.92" x2="509.59" y2="293.20" stroke="#222" stroke-width="0.7" fill="none"/>
<line x1="509.59" y1="293.20" x2="509.59" y2="310.50" stroke="#222" stroke-width="0.7" fill="none"/>
<line x1="507.79" y1="310.50" x2="511.39" y2="310.50" stroke="#222" stroke-width="0.7" fill="none"/>
<line x1="507.79" y1="286.92" x2="511.39" y2="286.92" stroke="#222" stroke-width="0.7" fill="none"/>
<line x1="506.39" y1="293.20" x2="512.79" y2="293.20" stroke="#222" stroke-width="0.7" fill="none"/>
<circle cx="509.59" cy="297.00" r="0.5" fill="#222"/>
<text transform="translate(509.59,276.00) scale(0.8,1)" font-size="5.5" class="x" text-anchor="middle">ab</text>
<text transform="translate(509.59,281.60) scale(0.8,1)" font-size="5.5" class="x" text-anchor="middle">2</text>
<text transform="translate(511.59,329.10) rotate(-45)" font-size="7.6" class="x" font-style="italic" text-anchor="end">Pia+Pita+Pb1+Pid3</text>
<line x1="519.46" y1="320.10" x2="519.46" y2="322.40" stroke="#222" stroke-width="0.7"/>
<line x1="519.46" y1="287.04" x2="519.46" y2="294.03" stroke="#222" stroke-width="0.7" fill="none"/>
<line x1="519.46" y1="310.38" x2="519.46" y2="313.11" stroke="#222" stroke-width="0.7" fill="none"/>
<line x1="517.66" y1="313.11" x2="521.26" y2="313.11" stroke="#222" stroke-width="0.7" fill="none"/>
<line x1="517.66" y1="287.04" x2="521.26" y2="287.04" stroke="#222" stroke-width="0.7" fill="none"/>
<rect x="516.26" y="294.03" width="6.40" height="16.35" fill="#fff" stroke="#222" stroke-width="0.7"/>
<line x1="516.26" y1="296.16" x2="522.66" y2="296.16" stroke="#222" stroke-width="0.7" fill="none"/>
<circle cx="519.46" cy="300.00" r="0.85" fill="#111"/>
<circle cx="519.46" cy="305.50" r="0.5" fill="#222"/>
<text transform="translate(519.46,276.00) scale(0.8,1)" font-size="5.5" class="x" text-anchor="middle">ab</text>
<text transform="translate(519.46,281.60) scale(0.8,1)" font-size="5.5" class="x" text-anchor="middle">1.7</text>
<text transform="translate(521.46,329.10) rotate(-45)" font-size="7.6" class="x" font-style="italic" text-anchor="end">Pia+Pita+Pid2</text>
<line x1="529.32" y1="320.10" x2="529.32" y2="322.40" stroke="#222" stroke-width="0.7"/>
<line x1="529.32" y1="287.04" x2="529.32" y2="294.03" stroke="#222" stroke-width="0.7" fill="none"/>
<line x1="529.32" y1="310.38" x2="529.32" y2="313.11" stroke="#222" stroke-width="0.7" fill="none"/>
<line x1="527.52" y1="313.11" x2="531.12" y2="313.11" stroke="#222" stroke-width="0.7" fill="none"/>
<line x1="527.52" y1="287.04" x2="531.12" y2="287.04" stroke="#222" stroke-width="0.7" fill="none"/>
<rect x="526.12" y="294.03" width="6.40" height="16.35" fill="#fff" stroke="#222" stroke-width="0.7"/>
<line x1="526.12" y1="296.16" x2="532.52" y2="296.16" stroke="#222" stroke-width="0.7" fill="none"/>
<circle cx="529.32" cy="300.00" r="0.85" fill="#111"/>
<circle cx="529.32" cy="305.50" r="0.5" fill="#222"/>
<text transform="translate(529.32,276.00) scale(0.8,1)" font-size="5.5" class="x" text-anchor="middle">ab</text>
<text transform="translate(529.32,281.60) scale(0.8,1)" font-size="5.5" class="x" text-anchor="middle">1.7</text>
<text transform="translate(531.32,329.10) rotate(-45)" font-size="7.6" class="x" font-style="italic" text-anchor="end">Pia+Pita+Pid3</text>
<line x1="539.19" y1="320.10" x2="539.19" y2="322.40" stroke="#222" stroke-width="0.7"/>
<line x1="539.19" y1="305.88" x2="539.19" y2="310.38" stroke="#222" stroke-width="0.7" fill="none"/>
<line x1="539.19" y1="310.38" x2="539.19" y2="313.11" stroke="#222" stroke-width="0.7" fill="none"/>
<line x1="537.39" y1="313.11" x2="540.99" y2="313.11" stroke="#222" stroke-width="0.7" fill="none"/>
<line x1="537.39" y1="305.88" x2="540.99" y2="305.88" stroke="#222" stroke-width="0.7" fill="none"/>
<line x1="535.99" y1="310.38" x2="542.39" y2="310.38" stroke="#222" stroke-width="0.7" fill="none"/>
<path d="M537.69 309.10L540.69 311.70M537.69 311.70L540.69 309.10" fill="none" stroke="#222" stroke-width="0.55"/>
<text transform="translate(539.19,295.20) scale(0.8,1)" font-size="5.5" class="x" text-anchor="middle">a</text>
<text transform="translate(539.19,301.20) scale(0.8,1)" font-size="5.5" class="x" text-anchor="middle">0.9</text>
<text transform="translate(541.19,329.10) rotate(-45)" font-size="7.6" class="x" font-style="italic" text-anchor="end">Pikh+Pia+Pita+Pi-zt</text>
</svg></body></html>
